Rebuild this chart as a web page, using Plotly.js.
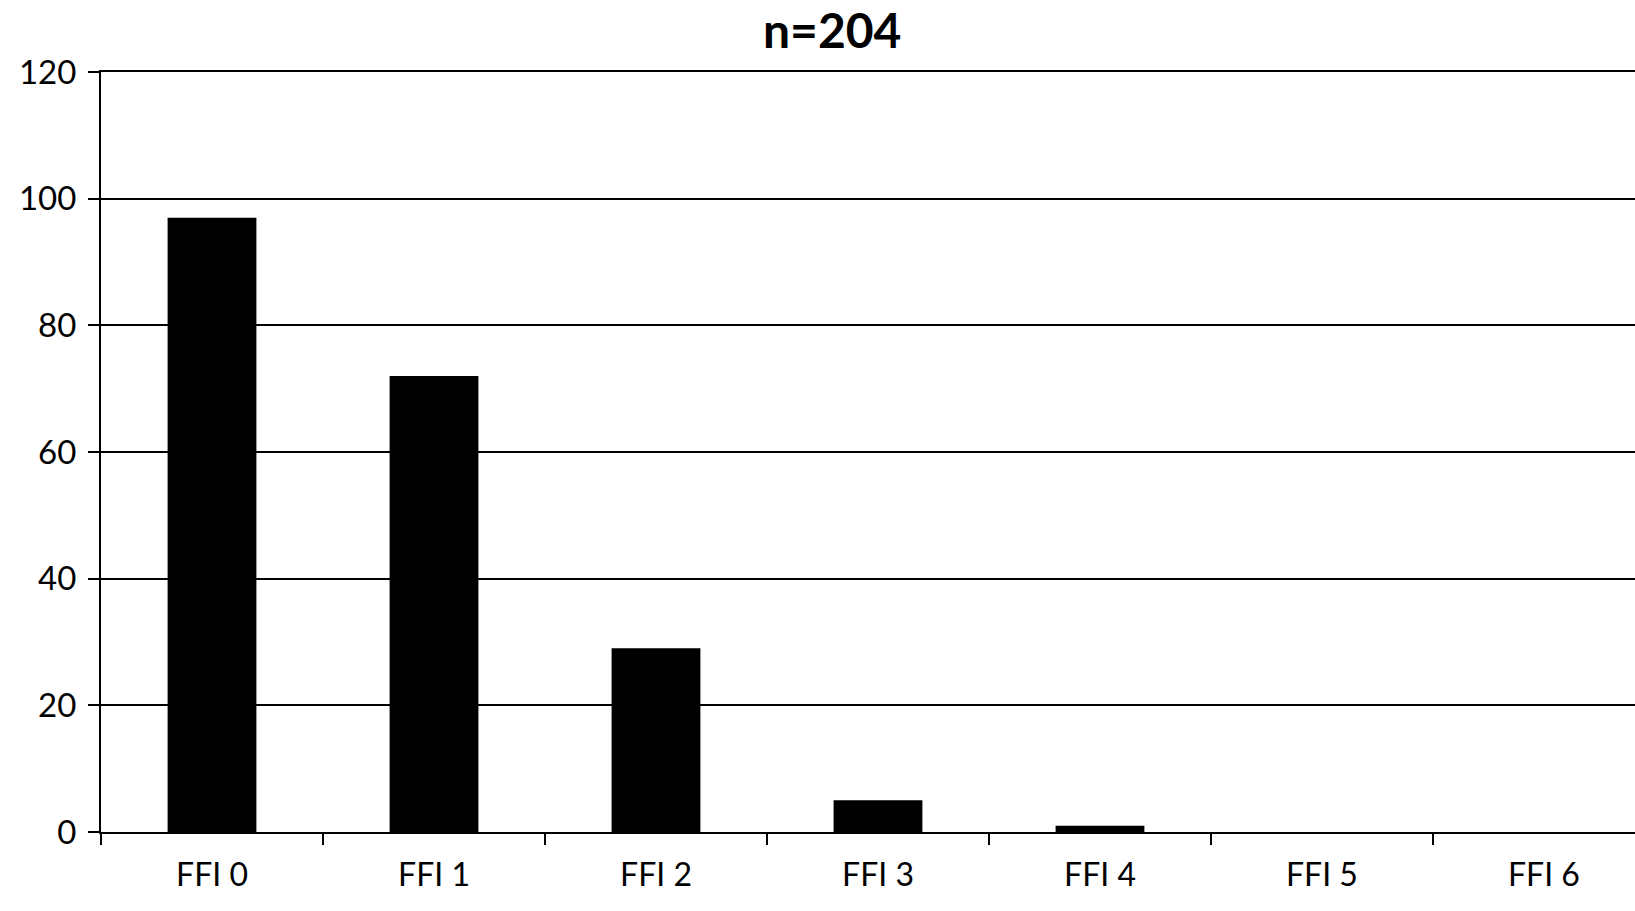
<!DOCTYPE html>
<html>
<head>
<meta charset="utf-8">
<script src="https://cdn.plot.ly/plotly-3.0.1.min.js"></script>
<style>
  html, body { margin: 0; padding: 0; background: #fff; }
  #chart { width: 1635px; height: 911px; }
</style>
</head>
<body>
<div id="chart"></div>
<script>
// Répartition des scores FFI
const categories = ['FFI 0', 'FFI 1', 'FFI 2', 'FFI 3', 'FFI 4', 'FFI 5', 'FFI 6'];
const counts = [97, 72, 29, 5, 1, 0, 0];
const yTicks = [0, 20, 40, 60, 80, 100, 120];
const chartTitle = 'n=204';

const trace = {
  x: categories,
  y: counts,
  type: 'bar',
  marker: { color: '#000000', line: { width: 0 } },
  hoverinfo: 'x+y',
};

const layout = {
  width: 1635,
  height: 911,
  title: {
    text: '<b>' + chartTitle + '</b>',
    font: { family: 'Lato, sans-serif', size: 48, color: '#000' },
    x: 0.509, xanchor: 'center',
    y: 1 - 31 / 911, yanchor: 'middle', yref: 'container',
  },
  xaxis: {
    type: 'category',
    range: [-0.5, 6.41],
    showline: true,
    mirror: true, // la ligne du haut fait office de grille à 120
    linecolor: '#000',
    linewidth: 2,
    ticks: 'outside',
    tickson: 'boundaries',
    ticklen: 11,
    tickwidth: 2,
    tickcolor: '#000',
    showgrid: false,
    ticklabelstandoff: 14,
    tickfont: { family: 'Lato, sans-serif', size: 32, color: '#000' },
  },
  yaxis: {
    range: [0, 120],
    tickvals: yTicks,
    showline: true,
    linecolor: '#000',
    linewidth: 2,
    ticks: 'outside',
    ticklen: 11,
    tickwidth: 2,
    tickcolor: '#000',
    showgrid: true,
    gridcolor: '#000',
    gridwidth: 2,
    zeroline: false,
    ticklabelstandoff: 5,
    tickfont: { family: 'Lato, sans-serif', size: 33, color: '#000' },
  },
  bargap: 0.6,
  margin: { t: 72, r: 0, b: 79, l: 101 },
  paper_bgcolor: '#ffffff',
  plot_bgcolor: '#ffffff',
  showlegend: false,
};

Plotly.newPlot('chart', [trace], layout, { displayModeBar: false, staticPlot: true });
</script>
</body>
</html>
